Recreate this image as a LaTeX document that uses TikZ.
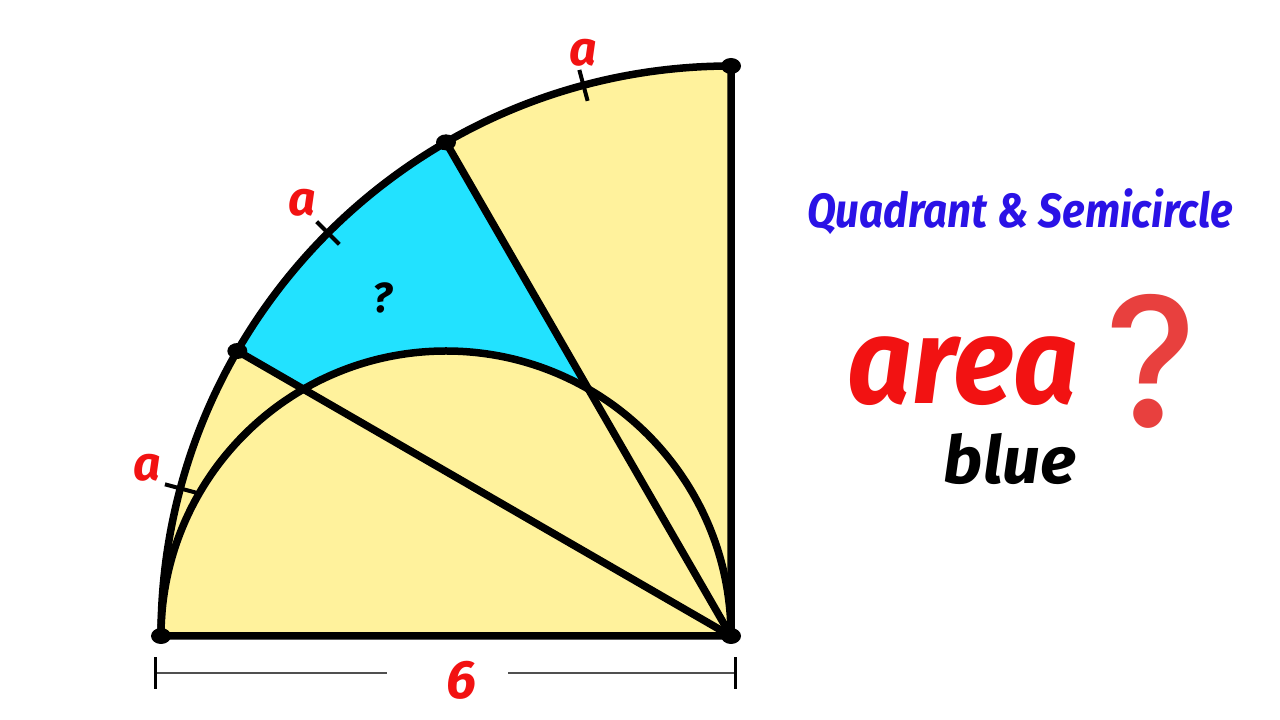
\documentclass[tikz,border=0pt]{standalone}
\usepackage{fontspec}
\setmainfont{Fira Sans}
\newfontfamily\emojifont{Noto Emoji}
\usetikzlibrary{calc}
\definecolor{qyellow}{HTML}{FFF29C}
\definecolor{qblue}{HTML}{22E2FF}
\definecolor{qred}{HTML}{F21212}
\definecolor{qtitle}{HTML}{2A12E6}
\definecolor{qemoji}{HTML}{E8403E}
\definecolor{qgray}{HTML}{505050}
\tikzset{
  outline/.style={line width=7.5pt, line join=round, line cap=round},
  tickmark/.style={line width=4pt},
  dotmark/.style={fill=black, draw=none},
  alabel/.style={text=qred, font=\fontsize{48}{48}\selectfont\bfseries\itshape, inner sep=0pt},
  dimline/.style={line width=2.5pt, draw=qgray},
}
\begin{document}
\begin{tikzpicture}[x=1pt,y=1pt]
\useasboundingbox (0,0) rectangle (1280,720);
\fill[white] (0,0) rectangle (1280,720);
% key points
\coordinate (O) at (731,84);
\coordinate (A) at ($(O)+(180:570)$);
\coordinate (T) at ($(O)+(90:570)$);
\coordinate (P1) at ($(O)+(150:570)$);
\coordinate (P2) at ($(O)+(120:570)$);
\coordinate (M) at ($(O)+(-285,0)$);
\coordinate (Q1) at ($(M)+(120:285)$);
\coordinate (Q2) at ($(M)+(60:285)$);
% fills
\fill[qyellow] (O) -- (A) arc[start angle=180,end angle=90,radius=570] -- cycle;
\fill[qblue] (P1) arc[start angle=150,end angle=120,radius=570] -- (Q2) arc[start angle=60,end angle=120,radius=285] -- cycle;
% semicircle
\draw[outline] (A) arc[start angle=180,end angle=0,radius=285];
% radii
\draw[outline] (P1) -- (O);
\draw[outline] (P2) -- (O);
% quadrant outline
\draw[outline] (O) -- (A) arc[start angle=180,end angle=90,radius=570] -- cycle;
% ticks
\foreach \t in {165,135,105}{
  \draw[tickmark] ($(O)+(\t:554)$) -- ($(O)+(\t:586)$);
}
% dots
\foreach \p in {A,P1,P2,T,O}{
  \fill[dotmark] (\p) ellipse[x radius=10, y radius=8];
}
% labels a
\node[alabel] (a1) at (147,252) {a};
\node[alabel] (a2) at (302,517) {a};
\node[alabel] (a3) at (583,667) {a};
% question mark in blue region
\node[font=\fontsize{42}{42}\selectfont\bfseries\itshape, inner sep=0pt] (qm) at (382,422) {?};
% dimension line
\coordinate (D1) at (155,47);
\coordinate (D2) at (735,47);
\node[text=qred, font=\fontsize{54}{54}\selectfont\bfseries\itshape, inner sep=0pt] (six) at (461,40) {6};
\draw[dimline] (D1) -- (387,47);
\draw[dimline] (508,47) -- (D2);
\draw[line width=3pt] ($(D1)+(0,-16)$) -- ($(D1)+(0,16)$);
\draw[line width=3pt] ($(D2)+(0,-16)$) -- ($(D2)+(0,16)$);
% right texts
\node[text=qtitle, font=\fontsize{48}{48}\selectfont\bfseries\itshape, inner sep=0pt] (title) at (1020,508) {\scalebox{0.88}[1]{Quadrant \& Semicircle}};
\node[text=qred, font=\fontsize{122}{122}\selectfont\bfseries\itshape, inner sep=0pt, anchor=base] (area) at (963,316) {\scalebox{0.93}[1]{area}};
\node[text=black, font=\fontsize{66}{66}\selectfont\bfseries\itshape, inner sep=0pt, anchor=base] (blue) at (1010,236) {\scalebox{1.02}[1]{blue}};
\node[text=qemoji, font=\fontsize{132}{132}\selectfont\emojifont, inner sep=0pt] (emo) at (1150,359) {❓};
\end{tikzpicture}
\end{document}
